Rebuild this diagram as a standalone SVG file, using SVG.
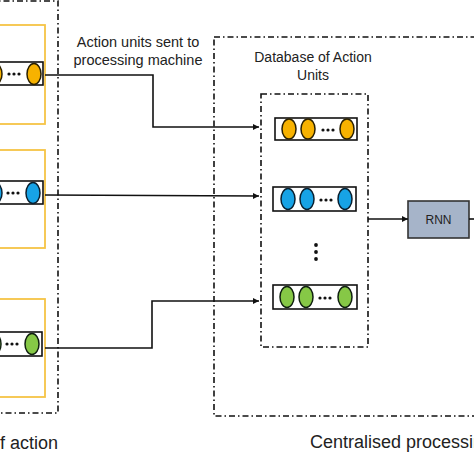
<svg xmlns="http://www.w3.org/2000/svg" width="474" height="474" viewBox="0 0 474 474">
<defs>
<marker id="arr" viewBox="0 0 10 10" refX="10" refY="5" markerWidth="6" markerHeight="6" orient="auto" markerUnits="userSpaceOnUse">
<path d="M0,0 L10,5 L0,10 z" fill="#111"/>
</marker>
<style>
.dd{fill:none;stroke:#111;stroke-width:1.6;stroke-dasharray:6 3 1.5 3}
.yb{fill:none;stroke:#F6C445;stroke-width:1.8}
.bar{fill:#fff;stroke:#111;stroke-width:1.6}
.o{fill:#F7B200;stroke:#2a2000;stroke-width:1.5}
.b{fill:#17A3E6;stroke:#0a2030;stroke-width:1.5}
.g{fill:#86C846;stroke:#102010;stroke-width:1.5}
.dot{fill:#111}
.ln{fill:none;stroke:#111;stroke-width:1.6}
.t{font-family:"Liberation Sans",Arial,sans-serif;fill:#222}
</style>
</defs>
<rect width="474" height="474" fill="#fff"/>

<g id="left-group">
<rect class="dd" x="-10" y="1" width="68" height="412"/>
<text class="t" x="0" y="449" font-size="18">f action</text>
</g>

<g id="source1">
<rect class="yb" x="-5" y="25" width="50" height="99"/>
<rect class="bar" x="-10" y="62" width="53" height="23"/>
<ellipse class="o" cx="-5" cy="74" rx="7" ry="10.5"/>
<circle class="dot" cx="9" cy="74" r="1.6"/><circle class="dot" cx="14" cy="74" r="1.6"/><circle class="dot" cx="19" cy="74" r="1.6"/>
<ellipse class="o" cx="34" cy="74" rx="7" ry="10.5"/>
</g>
<g id="source2">
<rect class="yb" x="-5" y="150" width="50" height="98"/>
<rect class="bar" x="-10" y="181" width="53" height="23"/>
<ellipse class="b" cx="-5" cy="193" rx="7" ry="10.5"/>
<circle class="dot" cx="8" cy="193" r="1.6"/><circle class="dot" cx="13" cy="193" r="1.6"/><circle class="dot" cx="18" cy="193" r="1.6"/>
<ellipse class="b" cx="33" cy="193" rx="7" ry="10.5"/>
</g>
<g id="source3">
<rect class="yb" x="-5" y="299" width="50" height="98"/>
<rect class="bar" x="-10" y="332" width="52" height="24"/>
<ellipse class="g" cx="-6" cy="344" rx="7" ry="10.5"/>
<circle class="dot" cx="7" cy="344" r="1.6"/><circle class="dot" cx="12" cy="344" r="1.6"/><circle class="dot" cx="17" cy="344" r="1.6"/>
<ellipse class="g" cx="32" cy="344" rx="7" ry="10.5"/>
</g>

<g id="label-sent">
<text class="t" x="138" y="47" font-size="14.5" text-anchor="middle">Action units sent to</text>
<text class="t" x="138" y="65" font-size="14.5" text-anchor="middle">processing machine</text>
</g>

<g id="central-group">
<rect class="dd" x="214" y="37" width="280" height="379"/>
<text class="t" x="310" y="448" font-size="18">Centralised processing</text>
</g>

<g id="database">
<rect class="dd" x="261" y="94" width="107" height="253"/>
<text class="t" x="313" y="62" font-size="14" text-anchor="middle">Database of Action</text>
<text class="t" x="313" y="80" font-size="14" text-anchor="middle">Units</text>
<rect class="bar" x="275" y="118" width="82" height="22"/>
<ellipse class="o" cx="289" cy="129" rx="7" ry="10"/>
<ellipse class="o" cx="308" cy="129" rx="7" ry="10"/>
<circle class="dot" cx="323" cy="130" r="1.6"/><circle class="dot" cx="328" cy="130" r="1.6"/><circle class="dot" cx="333" cy="130" r="1.6"/>
<ellipse class="o" cx="347" cy="129" rx="7" ry="10"/>
<rect class="bar" x="273" y="187" width="83" height="24"/>
<ellipse class="b" cx="288" cy="199" rx="7" ry="10.5"/>
<ellipse class="b" cx="307" cy="199" rx="7" ry="10.5"/>
<circle class="dot" cx="321" cy="200" r="1.6"/><circle class="dot" cx="326" cy="200" r="1.6"/><circle class="dot" cx="331" cy="200" r="1.6"/>
<ellipse class="b" cx="345" cy="199" rx="7" ry="10.5"/>
<circle class="dot" cx="316" cy="245" r="1.9"/><circle class="dot" cx="316" cy="252" r="1.9"/><circle class="dot" cx="316" cy="259" r="1.9"/>
<rect class="bar" x="273" y="285" width="84" height="24"/>
<ellipse class="g" cx="287" cy="297" rx="7" ry="10.5"/>
<ellipse class="g" cx="306" cy="297" rx="7" ry="10.5"/>
<circle class="dot" cx="320" cy="298" r="1.6"/><circle class="dot" cx="325" cy="298" r="1.6"/><circle class="dot" cx="330" cy="298" r="1.6"/>
<ellipse class="g" cx="345" cy="297" rx="7" ry="10.5"/>
</g>

<g id="rnn">
<rect x="408" y="201" width="61" height="37" fill="#A6B4C9" stroke="#333" stroke-width="1.6"/>
<text class="t" x="438.5" y="224" font-size="12" text-anchor="middle">RNN</text>
</g>

<g id="connectors">
<polyline class="ln" points="45,75 153,75 153,127 259,127" marker-end="url(#arr)"/>
<polyline class="ln" points="45,195 259,196" marker-end="url(#arr)"/>
<polyline class="ln" points="45,348 152,348 152,301 259,301" marker-end="url(#arr)"/>
<polyline class="ln" points="368,219 408,219" marker-end="url(#arr)"/>
<polyline class="ln" points="469,219 480,219"/>
</g>
</svg>
